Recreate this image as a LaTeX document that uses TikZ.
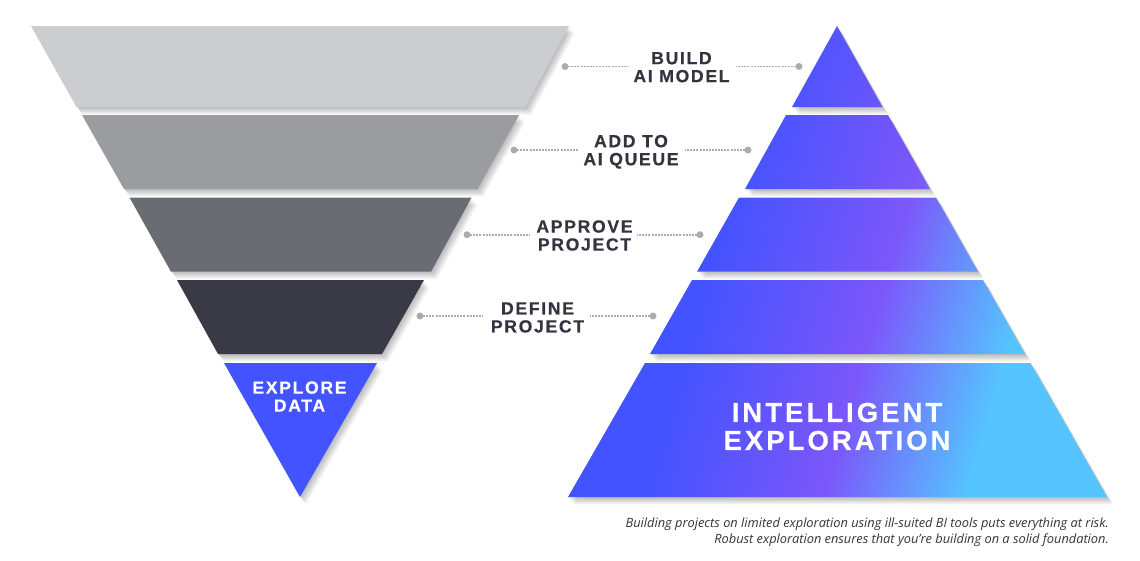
\documentclass[tikz,border=0pt]{standalone}
\usepackage{fontspec}
\setmainfont{Liberation Sans}
\newfontfamily\lblfont[LetterSpace=9.5,BoldFeatures={FakeBold=0.4}]{Liberation Sans}
\newfontfamily\bigfont[LetterSpace=11,BoldFeatures={FakeBold=0.4}]{Liberation Sans}
\newfontfamily\capfont{Open Sans}
\definecolor{fa}{HTML}{CCCDD0}
\definecolor{fb}{HTML}{9B9C9F}
\definecolor{fc}{HTML}{696C73}
\definecolor{fd}{HTML}{393A46}
\definecolor{gblue}{HTML}{4353FF}
\definecolor{gpurple}{HTML}{7B57FA}
\definecolor{gcyan}{HTML}{55C4FF}
\definecolor{ink}{HTML}{33343F}
\definecolor{dotgrey}{HTML}{ABABB0}
\pgfdeclarehorizontalshading{pyr}{100bp}{color(0bp)=(gblue); color(39.8bp)=(gblue); color(54.2bp)=(gpurple); color(65.75bp)=(gcyan); color(100bp)=(gcyan)}
\tikzset{
  lbl/.style={font=\lblfont\bfseries\fontsize{17.6}{18}\selectfont,text=ink,align=center,inner sep=0pt},
  wlbl/.style={font=\lblfont\bfseries\fontsize{17.6}{18}\selectfont,text=white,align=center,inner sep=0pt},
  biglbl/.style={font=\bigfont\bfseries\fontsize{27.5}{28}\selectfont,text=white,align=center,inner sep=0pt},
  dotnode/.style={circle,fill=dotgrey,inner sep=0pt,minimum size=7pt},
  conn/.style={draw=dotgrey,line width=1.8pt,dash pattern=on 2pt off 1.1pt},
  capt/.style={font=\capfont\itshape\fontsize{12.8}{16}\selectfont,text=ink,align=right,inner sep=0pt,anchor=east}
}
\newcommand\softshape[2]{%
  \foreach \k in {1,...,10}{\fill[black,opacity=.026,shift={(\k*0.6,\k*0.75)}] #2;}
  \fill[#1] #2;}
\def\pa{(837,26) -- (882.5,107) -- (792,107) -- cycle}
\def\pb{(786,115) -- (888,115) -- (930,189) -- (745,189) -- cycle}
\def\pc{(739,197.5) -- (936,197.5) -- (978,271.7) -- (697,271.7) -- cycle}
\def\pd{(692,280) -- (983,280) -- (1025,354) -- (650,354) -- cycle}
\def\pe{(645,363) -- (1030.5,363) -- (1107,497) -- (568,497) -- cycle}
\begin{document}
\begin{tikzpicture}[x=1pt,y=-1pt]
\useasboundingbox (0,0) rectangle (1140,560);
\fill[white] (0,0) rectangle (1140,560);
% funnel
\softshape{fa}{(31,26) -- (569,26) -- (525.5,107) -- (76.5,107) -- cycle}
\softshape{fb}{(82,115) -- (519,115) -- (477.5,189) -- (124,189) -- cycle}
\softshape{fc}{(129.5,197.5) -- (471.5,197.5) -- (431,271.7) -- (171,271.7) -- cycle}
\softshape{fd}{(177,280) -- (424,280) -- (382,354) -- (218,354) -- cycle}
\softshape{gblue}{(224,363) -- (377,363) -- (300,497) -- cycle}
% pyramid shadows
\foreach \k in {1,...,10}{\fill[black,opacity=.026,shift={(\k*0.6,\k*0.75)}] \pa \pb \pc \pd \pe;}
% pyramid with one gradient across all tiers
\begin{scope}
  \clip \pa \pb \pc \pd \pe;
  \shade[shading=pyr,shading angle=-16] (537,-38) rectangle (1137,562);
\end{scope}
% labels
\node[lbl] (build) at (681.5,67.2) {BUILD\\AI MODEL};
\node[lbl] (queue) at (631,151.8) {ADD TO\\AI QUEUE};
\node[lbl] (approve) at (584.5,235.5) {APPROVE\\PROJECT};
\node[lbl] (define) at (537.5,317.5) {DEFINE\\PROJECT};
\node[wlbl] (explore) at (299.5,396.5) {EXPLORE\\DATA};
\node[biglbl] (intel) at (837,426.5) {INTELLIGENT\\EXPLORATION};
\node[capt] (cap1) at (1109,524) {Building projects on limited exploration using ill-suited BI tools puts everything at risk.};
\node[capt] (cap2) at (1109,540) {Robust exploration ensures that you’re building on a solid foundation.};
% connectors
\node[dotnode] (d1l) at (565,66.5) {};
\node[dotnode] (d1r) at (799,66.5) {};
\node[dotnode] (d2l) at (514,150) {};
\node[dotnode] (d2r) at (748,150) {};
\node[dotnode] (d3l) at (467,234.7) {};
\node[dotnode] (d3r) at (700,234.7) {};
\node[dotnode] (d4l) at (420,316) {};
\node[dotnode] (d4r) at (653,316) {};
\coordinate (e1l) at (628,66.5);
\coordinate (e1r) at (736,66.5);
\coordinate (e2l) at (578,150);
\coordinate (e2r) at (685,150);
\coordinate (e3l) at (530,234.7);
\coordinate (e3r) at (637,234.7);
\coordinate (e4l) at (483,316);
\coordinate (e4r) at (590,316);
\draw[conn] (d1l.center) -- (e1l);
\draw[conn] (d1r.center) -- (e1r);
\draw[conn] (d2l.center) -- (e2l);
\draw[conn] (d2r.center) -- (e2r);
\draw[conn] (d3l.center) -- (e3l);
\draw[conn] (d3r.center) -- (e3r);
\draw[conn] (d4l.center) -- (e4l);
\draw[conn] (d4r.center) -- (e4r);
\end{tikzpicture}
\end{document}
